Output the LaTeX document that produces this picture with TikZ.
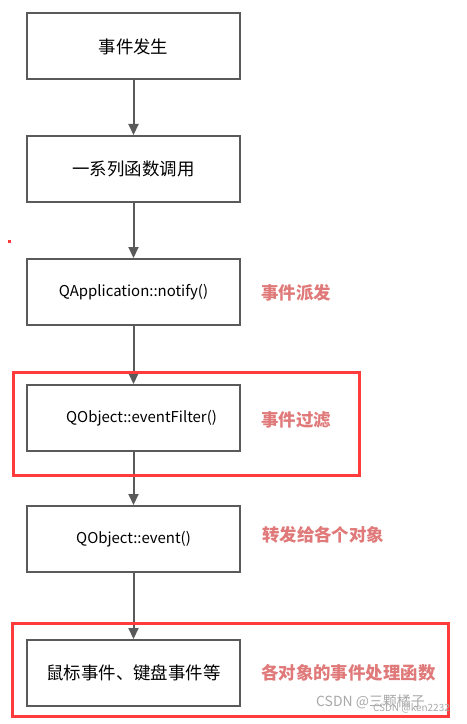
\documentclass[tikz,border=0pt]{standalone}
\usepackage{fontspec}
\setmainfont{Noto Sans CJK SC}
\usetikzlibrary{arrows.meta}

\definecolor{boxgray}{HTML}{5A5A5A}
\definecolor{notered}{HTML}{E07A7A}
\definecolor{framered}{HTML}{FF3B3B}
\definecolor{markgray}{HTML}{A8A8A8}

\tikzset{
  stage/.style={draw=boxgray, line width=2bp, minimum width=213bp,
    minimum height=66bp, inner sep=0pt, font=\fontsize{15}{18}\selectfont},
  hanzi/.style={font=\fontsize{17.5}{20}\selectfont},
  note/.style={anchor=west, inner sep=0pt, text=notered,
    font=\bfseries\fontsize{17.5}{20}\selectfont},
  flow/.style={draw=boxgray, line width=2bp,
    -{Triangle[width=10bp,length=11bp]}},
  frame/.style={draw=framered, line width=3bp},
  watermark/.style={text=markgray, inner sep=0pt}
}

\begin{document}
\begin{tikzpicture}[x=1bp,y=-1bp]

  \useasboundingbox (0,0) rectangle (467,724);

  \node[stage, hanzi] (occur) at (133.5,46.5) {事件发生};
  \node[stage, hanzi] (calls) at (133.5,169) {一系列函数调用};
  \node[stage] (notify) at (133.5,292) {QApplication::notify()};
  \node[stage] (filter) at (133.5,418) {\hspace{16bp}QObject::eventFilter()};
  \node[stage] (event) at (133.5,539) {QObject::event()};
  \node[stage, hanzi] (handler) at (133.5,673) {鼠标事件、键盘事件等};

  \draw[flow] (occur) -- (calls);
  \draw[flow] (calls) -- (notify);
  \draw[flow] (notify) -- (filter);
  \draw[flow] (filter) -- (event);
  \draw[flow] (event) -- (handler);

  \node[note] (dispatch) at (261,293) {事件派发};
  \node[note] (filtering) at (261,420) {事件过滤};
  \node[note] (forward) at (262,535) {转发给各个对象};
  \node[note] (handling) at (261,673) {各对象的事件处理函数};

  \draw[frame] (13.5,372.5) rectangle (359.5,475.5);
  \draw[frame] (12.5,623.5) rectangle (448.5,716.5);

  \fill[framered] (8,240) rectangle (11,243);

  \node[watermark, anchor=west, font=\fontsize{14}{16}\selectfont] (csdn)
    at (316,702) {CSDN @三颗橘子};
  \node[watermark, anchor=east, font=\fontsize{10}{12}\selectfont] (user)
    at (450,708) {CSDN @ken2232};

\end{tikzpicture}
\end{document}
